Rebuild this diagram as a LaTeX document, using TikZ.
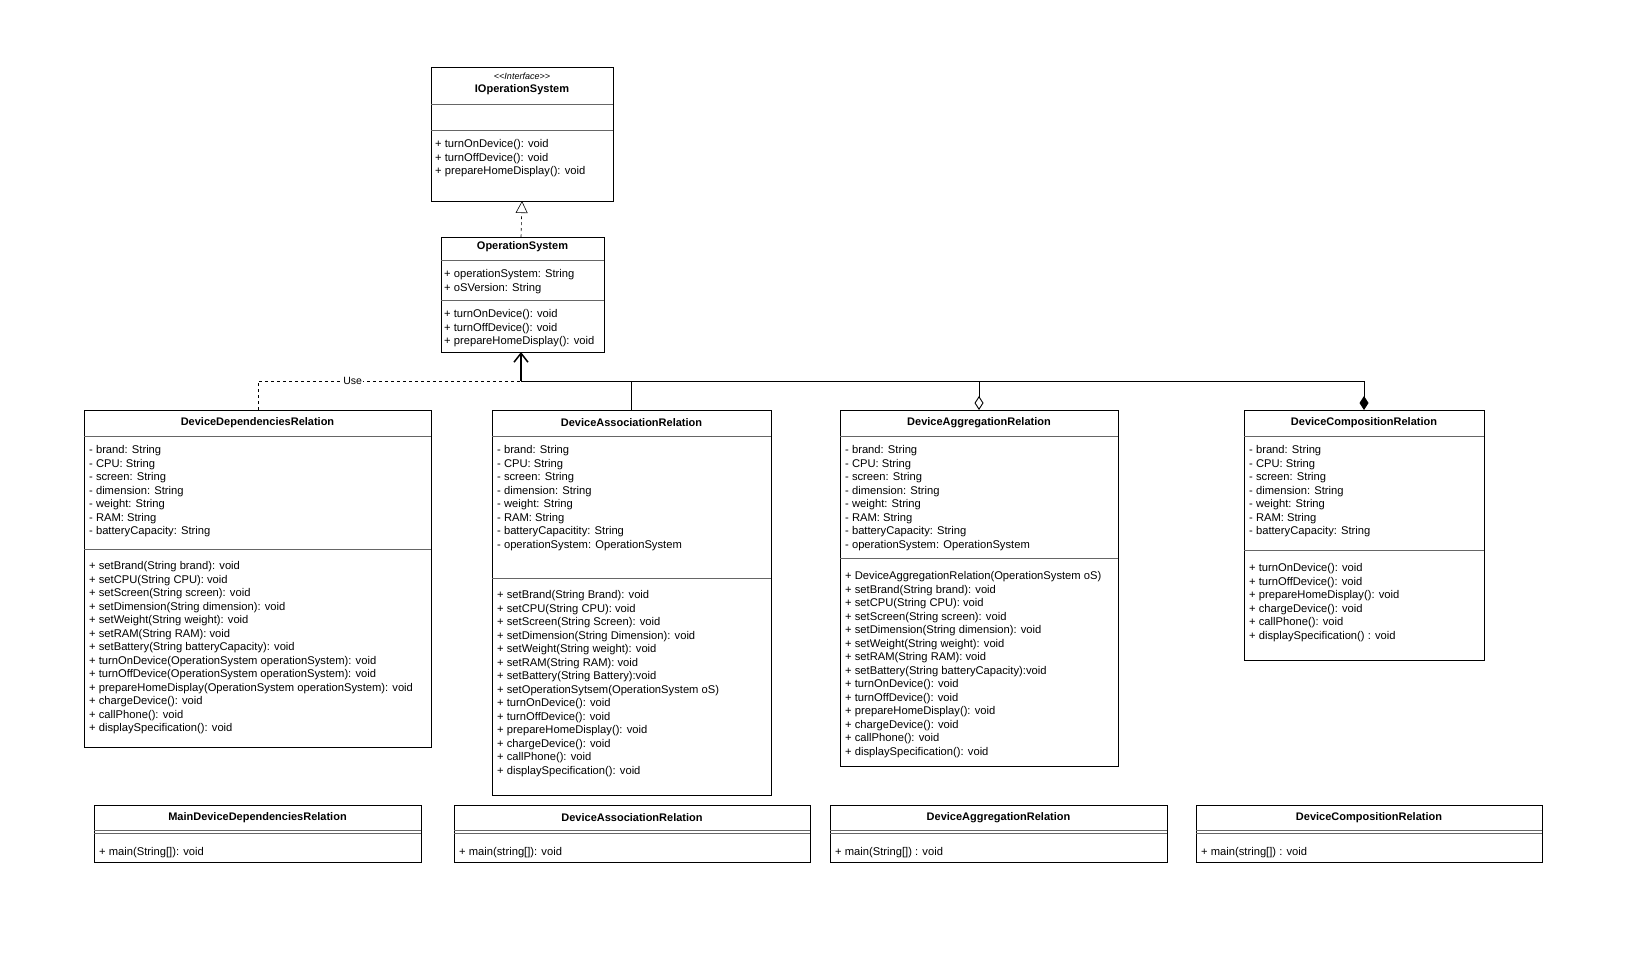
\documentclass[tikz,border=0pt]{standalone}
\usepackage{fontspec}
\setmainfont{Liberation Sans}
\usetikzlibrary{arrows.meta}
\begin{document}
\begin{tikzpicture}[x=1pt,y=-1pt,
  box/.style={draw,line width=0.9pt},
  sep/.style={line width=0.5pt,draw=black!60},
  txt/.style={anchor=north west,inner sep=0pt,align=left,yshift=-3.5pt,font=\fontsize{11.2}{13.5}\selectfont},
  ttl/.style={inner sep=0pt,font=\fontsize{11}{13}\selectfont\bfseries},
  conn/.style={line width=0.9pt}]
\useasboundingbox (0,0) rectangle (1629,964);
\newcommand{\cls}[9]{% name,x1,y1,x2,y2,titley,sep1,sep2,title
  \draw[box] (#2,#3) rectangle (#4,#5);
  \node[ttl] (#1) at ({(#2+#4)/2},#6) {#9};
  \draw[sep] (#2,#7) -- (#4,#7);
  \draw[sep] (#2,#8) -- (#4,#8);}
% IOperationSystem
\draw[box] (431,67) rectangle (613,201);
\coordinate (ios) at (522,201);
\node[inner sep=0pt,font=\fontsize{9}{10}\selectfont\itshape] (iosst) at (522,76) {\textless{}\textless{}Interface\textgreater{}\textgreater{}};
\node[ttl] (iostitle) at (522,90) {IOperationSystem};
\draw[sep] (431,104) -- (613,104);
\draw[sep] (431,130) -- (613,130);
\node[txt] (iosm) at (435,136) {+ turnOnDevice(): void\\+ turnOffDevice(): void\\+ prepareHomeDisplay(): void};
% OperationSystem
\cls{ost}{441}{237}{604}{352}{247}{260}{300}{OperationSystem}
\node[txt] (osa) at (444,266) {+ operationSystem: String\\+ oSVersion: String};
\node[txt] (osm) at (444,306) {+ turnOnDevice(): void\\+ turnOffDevice(): void\\+ prepareHomeDisplay(): void};
\coordinate (osb) at (521,352);
\coordinate (ostop) at (521,237);
% Dependencies
\cls{dep}{84}{410}{431}{747}{423}{436}{549}{DeviceDependenciesRelation}
\node[txt] (depa) at (89,442) {- brand: String\\- CPU: String\\- screen: String\\- dimension: String\\- weight: String\\- RAM: String\\- batteryCapacity: String};
\node[txt] (depm) at (89,558) {+ setBrand(String brand): void\\+ setCPU(String CPU): void\\+ setScreen(String screen): void\\+ setDimension(String dimension): void\\+ setWeight(String weight): void\\+ setRAM(String RAM): void\\+ setBattery(String batteryCapacity): void\\+ turnOnDevice(OperationSystem operationSystem): void\\+ turnOffDevice(OperationSystem operationSystem): void\\+ prepareHomeDisplay(OperationSystem operationSystem): void\\+ chargeDevice(): void\\+ callPhone(): void\\+ displaySpecification(): void};
% Association
\cls{asc}{492}{410}{771}{795}{423}{436}{578}{DeviceAssociationRelation}
\node[txt] (asca) at (497,442) {- brand: String\\- CPU: String\\- screen: String\\- dimension: String\\- weight: String\\- RAM: String\\- batteryCapacitity: String\\- operationSystem: OperationSystem};
\node[txt] (ascm) at (497,587) {+ setBrand(String Brand): void\\+ setCPU(String CPU): void\\+ setScreen(String Screen): void\\+ setDimension(String Dimension): void\\+ setWeight(String weight): void\\+ setRAM(String RAM): void\\+ setBattery(String Battery):void\\+ setOperationSytsem(OperationSystem oS)\\+ turnOnDevice(): void\\+ turnOffDevice(): void\\+ prepareHomeDisplay(): void\\+ chargeDevice(): void\\+ callPhone(): void\\+ displaySpecification(): void};
% Aggregation
\cls{agg}{840}{410}{1118}{766}{423}{436}{558}{DeviceAggregationRelation}
\node[txt] (agga) at (845,442) {- brand: String\\- CPU: String\\- screen: String\\- dimension: String\\- weight: String\\- RAM: String\\- batteryCapacity: String\\- operationSystem: OperationSystem};
\node[txt] (aggm) at (845,568) {+ DeviceAggregationRelation(OperationSystem oS)\\+ setBrand(String brand): void\\+ setCPU(String CPU): void\\+ setScreen(String screen): void\\+ setDimension(String dimension): void\\+ setWeight(String weight): void\\+ setRAM(String RAM): void\\+ setBattery(String batteryCapacity):void\\+ turnOnDevice(): void\\+ turnOffDevice(): void\\+ prepareHomeDisplay(): void\\+ chargeDevice(): void\\+ callPhone(): void\\+ displaySpecification(): void};
% Composition
\cls{cmp}{1244}{410}{1484}{660}{423}{436}{550}{DeviceCompositionRelation}
\node[txt] (cmpa) at (1249,442) {- brand: String\\- CPU: String\\- screen: String\\- dimension: String\\- weight: String\\- RAM: String\\- batteryCapacity: String};
\node[txt] (cmpm) at (1249,560) {+ turnOnDevice(): void\\+ turnOffDevice(): void\\+ prepareHomeDisplay(): void\\+ chargeDevice(): void\\+ callPhone(): void\\+ displaySpecification() : void};
% Bottom main classes
\cls{m1}{94}{805}{421}{862}{818}{830}{833}{MainDeviceDependenciesRelation}
\node[txt] (m1m) at (99,844) {+ main(String[]): void};
\cls{m2}{454}{805}{810}{862}{818}{830}{833}{DeviceAssociationRelation}
\node[txt] (m2m) at (459,844) {+ main(string[]): void};
\cls{m3}{830}{805}{1167}{862}{818}{830}{833}{DeviceAggregationRelation}
\node[txt] (m3m) at (835,844) {+ main(String[]) : void};
\cls{m4}{1196}{805}{1542}{862}{818}{830}{833}{DeviceCompositionRelation}
\node[txt] (m4m) at (1201,844) {+ main(string[]) : void};
% connectors
\coordinate (deptop) at (258,410);
\coordinate (asctop) at (631,410);
\coordinate (aggtop) at (979,410);
\coordinate (cmptop) at (1364,410);
\coordinate (j) at (521,381);
\draw[conn,dashed,line width=0.6pt,-{Triangle[open,length=12pt,width=12pt]}] (ostop) -- (ios);
\draw[conn,dashed,line width=0.6pt] (deptop) |- (j) node[pos=0.68,fill=white,inner sep=1pt,font=\fontsize{10.5}{12}\selectfont] {Use};
\draw[conn,-{Straight Barb[length=9pt,width=14pt,line width=1.5pt]},line width=1.5pt] (j) -- (osb);
\draw[conn] (j) -| (asctop);
\draw[conn] (j) -| (1364,381);
\draw[conn,{Diamond[open,length=14pt,width=9pt]}-] (aggtop) -- (979,381);
\draw[conn,{Diamond[length=14pt,width=9pt]}-] (cmptop) -- (1364,381);
\end{tikzpicture}
\end{document}
